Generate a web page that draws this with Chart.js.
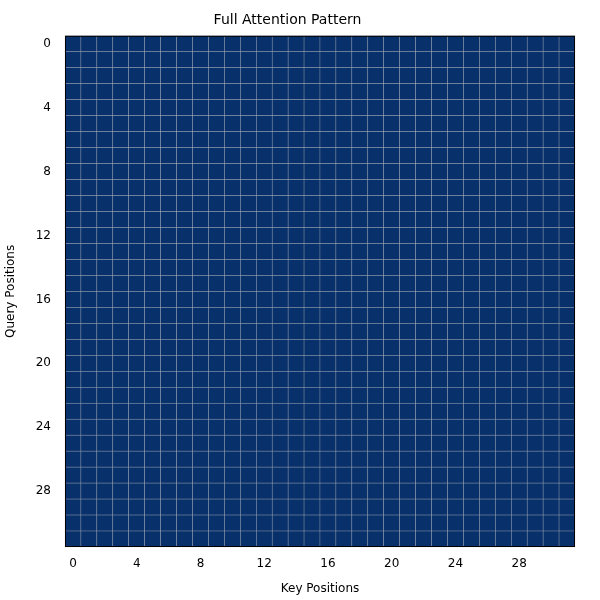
<!DOCTYPE html>
<html><head><meta charset="utf-8">
<script src="https://cdn.jsdelivr.net/npm/chart.js@4.4.0/dist/chart.umd.min.js"></script>
<style>body{margin:0;background:#fff}</style></head>
<body><canvas id="c" width="600" height="600"></canvas>
<script>
const N = 32;
const tickLabels = [0,4,8,12,16,20,24,28];
const row = [1,1,1,1,1,1,1,1,1,1,1,1,1,1,1,1,1,1,1,1,1,1,1,1,1,1,1,1,1,1,1,1];
const attention = [row,row,row,row,row,row,row,row,row,row,row,row,row,row,row,row,
                   row,row,row,row,row,row,row,row,row,row,row,row,row,row,row,row];
const points = [];
attention.forEach((r,i)=>r.forEach((v,j)=>points.push({x:j,y:i,v})));
function color(v){ // Blues colormap, v in [0,1]
  const a=[247,251,255], b=[8,48,107];
  return `rgb(${a.map((c,k)=>Math.round(c+(b[k]-c)*v)).join(',')})`;
}
const heat = {
  id:'heat',
  beforeDatasetsDraw(chart){
    const {ctx, scales:{x,y}} = chart;
    ctx.save();
    points.forEach(p=>{
      const x0=x.getPixelForValue(p.x-0.5), x1=x.getPixelForValue(p.x+0.5);
      const y0=y.getPixelForValue(p.y-0.5), y1=y.getPixelForValue(p.y+0.5);
      ctx.fillStyle=color(p.v);
      ctx.fillRect(x0,y0,x1-x0,y1-y0);
      ctx.strokeStyle='rgba(190,190,190,0.55)';
      ctx.lineWidth=0.5;
      ctx.strokeRect(x0,y0,x1-x0,y1-y0);
    });
    const a=chart.chartArea;
    ctx.strokeStyle='#000'; ctx.lineWidth=1;
    ctx.strokeRect(a.left+0.5,a.top+0.5,a.right-a.left-1,a.bottom-a.top-1);
    ctx.restore();
  }
};
const font={family:'DejaVu Sans',size:12};
new Chart(document.getElementById('c'),{
  type:'scatter',
  data:{datasets:[{data:points,pointRadius:0}]},
  options:{
    responsive:false,animation:false,
    layout:{padding:{left:0,right:25,top:0,bottom:0}},
    plugins:{legend:{display:false},tooltip:{enabled:false},
      title:{display:true,text:'Full Attention Pattern',color:'#000',
        font:{family:'DejaVu Sans',size:14,weight:'normal'},padding:{top:12,bottom:7}}},
    scales:{
      x:{type:'linear',min:-0.5,max:N-0.5,
        afterBuildTicks:s=>{s.ticks=tickLabels.map(v=>({value:v}));},
        afterFit:s=>{s.height=53;},
        grid:{display:false},border:{display:false},
        ticks:{color:'#000',font,padding:2,maxRotation:0},
        title:{display:true,text:'Key Positions',color:'#000',font,padding:{top:4}}},
      y:{type:'linear',reverse:true,min:-0.5,max:N-0.5,
        afterBuildTicks:s=>{s.ticks=tickLabels.map(v=>({value:v}));},
        afterFit:s=>{s.width=65;},
        grid:{display:false},border:{display:false},
        ticks:{color:'#000',font,padding:6},
        title:{display:true,text:'Query Positions',color:'#000',font,padding:{bottom:4}}}
    }
  },
  plugins:[heat]
});
</script></body></html>
